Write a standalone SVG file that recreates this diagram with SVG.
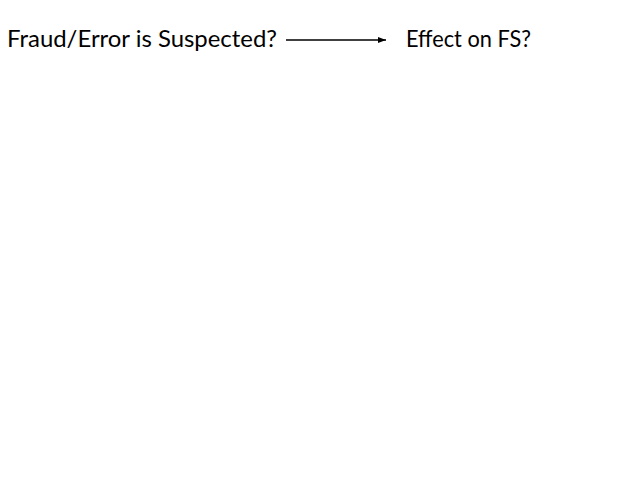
<svg xmlns="http://www.w3.org/2000/svg" width="638" height="479" viewBox="0 0 638 479">
<defs>
<style>
.t{font-family:Lato,"Open Sans","DejaVu Sans",sans-serif;font-size:23.5px;fill:#000}
</style>
<marker id="ah" markerWidth="8" markerHeight="6" refX="8" refY="3" orient="auto" markerUnits="userSpaceOnUse">
<path d="M0,0 L8,3 L0,6 Z" fill="#000"/>
</marker>
</defs>
<rect width="638" height="479" fill="#fff"/>
<g id="fraud"><text class="t" x="7" y="47" textLength="270" lengthAdjust="spacingAndGlyphs">Fraud/Error is Suspected?</text></g>
<g id="effect"><text class="t" x="406" y="47" textLength="125" lengthAdjust="spacingAndGlyphs">Effect on FS?</text></g>
<g id="connectors"><line x1="286" y1="40" x2="386" y2="40" stroke="#000" stroke-width="1.5" marker-end="url(#ah)"/></g>
</svg>
